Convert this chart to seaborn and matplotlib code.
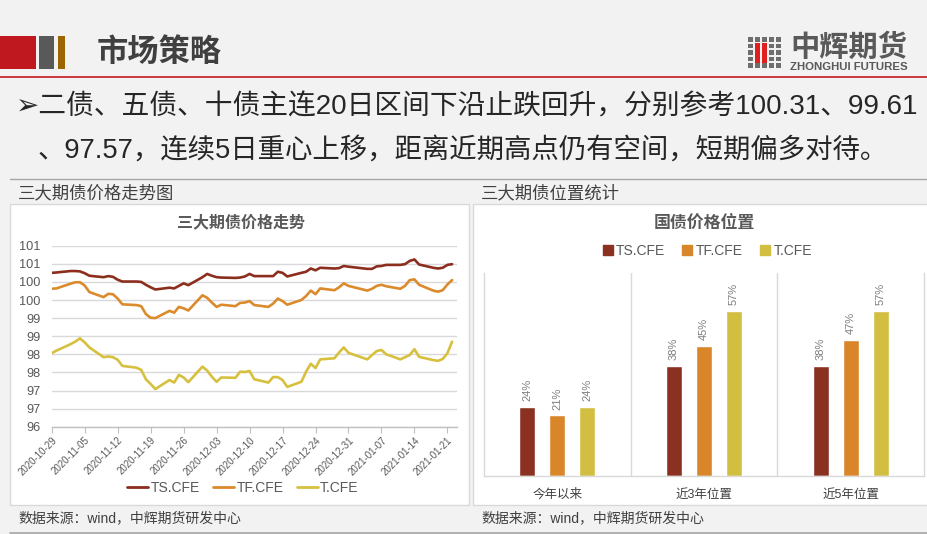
import numpy as np
import pandas as pd
import matplotlib
matplotlib.use('Agg')
import matplotlib.pyplot as plt
from matplotlib.patches import Rectangle
from matplotlib.lines import Line2D
import seaborn as sns

# ---------------- data ----------------
dates = [
    "2020-10-29", "2020-10-30",
    "2020-11-02", "2020-11-03", "2020-11-04", "2020-11-05", "2020-11-06",
    "2020-11-09", "2020-11-10", "2020-11-11", "2020-11-12", "2020-11-13",
    "2020-11-16", "2020-11-17", "2020-11-18", "2020-11-19", "2020-11-20",
    "2020-11-23", "2020-11-24", "2020-11-25", "2020-11-26", "2020-11-27",
    "2020-11-30", "2020-12-01", "2020-12-02", "2020-12-03", "2020-12-04",
    "2020-12-07", "2020-12-08", "2020-12-09", "2020-12-10", "2020-12-11",
    "2020-12-14", "2020-12-15", "2020-12-16", "2020-12-17", "2020-12-18",
    "2020-12-21", "2020-12-22", "2020-12-23", "2020-12-24", "2020-12-25",
    "2020-12-28", "2020-12-29", "2020-12-30", "2020-12-31",
    "2021-01-04", "2021-01-05", "2021-01-06", "2021-01-07", "2021-01-08",
    "2021-01-11", "2021-01-12", "2021-01-13", "2021-01-14", "2021-01-15",
    "2021-01-18", "2021-01-19", "2021-01-20", "2021-01-21", "2021-01-22",
]
ts_price = [
    100.25, 100.26,
    100.30, 100.30, 100.29, 100.24, 100.17,
    100.13, 100.16, 100.14, 100.06, 100.01,
    100.01, 100.00, 99.92, 99.85, 99.79,
    99.84, 99.82, 99.89, 99.96, 99.91,
    100.13, 100.22, 100.17, 100.13, 100.12,
    100.11, 100.12, 100.15, 100.22, 100.16,
    100.16, 100.16, 100.28, 100.25, 100.15,
    100.25, 100.28, 100.37, 100.32, 100.39,
    100.37, 100.38, 100.44, 100.42,
    100.36, 100.36, 100.43, 100.44, 100.47,
    100.47, 100.49, 100.58, 100.62, 100.48,
    100.39, 100.37, 100.39, 100.47, 100.49,
]
tf_price = [
    99.81, 99.82,
    99.95, 99.99, 99.99, 99.90, 99.72,
    99.58, 99.67, 99.66, 99.54, 99.38,
    99.36, 99.33, 99.11, 99.01, 99.00,
    99.20, 99.15, 99.31, 99.27, 99.21,
    99.63, 99.56, 99.43, 99.31, 99.37,
    99.33, 99.42, 99.43, 99.47, 99.36,
    99.31, 99.40, 99.54, 99.47, 99.37,
    99.50, 99.61, 99.76, 99.66, 99.82,
    99.77, 99.85, 99.96, 99.89,
    99.76, 99.81, 99.89, 99.92, 99.88,
    99.81, 99.89, 100.05, 100.07, 99.92,
    99.76, 99.73, 99.77, 99.93, 100.05,
]
t_price = [
    98.03, 98.10,
    98.28, 98.35, 98.44, 98.33, 98.19,
    97.92, 97.94, 97.92, 97.85, 97.68,
    97.63, 97.57, 97.31, 97.18, 97.04,
    97.29, 97.22, 97.43, 97.36, 97.23,
    97.66, 97.55, 97.38, 97.24, 97.36,
    97.35, 97.52, 97.51, 97.54, 97.31,
    97.22, 97.37, 97.37, 97.29, 97.10,
    97.24, 97.52, 97.74, 97.62, 97.86,
    97.89, 98.05, 98.19, 98.04,
    97.86, 97.98, 98.09, 98.12, 98.00,
    97.86, 97.92, 97.98, 98.14, 97.93,
    97.84, 97.82, 97.87, 98.03, 98.35,
]
series_names = ["TS.CFE", "TF.CFE", "T.CFE"]

bar_categories = ["今年以来", "近3年位置", "近5年位置"]
ts_pos = [0.24, 0.38, 0.38]
tf_pos = [0.21, 0.45, 0.47]
t_pos = [0.24, 0.57, 0.57]

line_title = "三大期债价格走势"
bar_title = "国债价格位置"
left_header = "三大期债价格走势图"
right_header = "三大期债位置统计"
source_text = "数据来源：wind，中辉期货研发中心"
page_title = "市场策略"
bullet_1 = "➢二债、五债、十债主连20日区间下沿止跌回升，分别参考100.31、99.61"
bullet_2 = "、97.57，连续5日重心上移，距离近期高点仍有空间，短期偏多对待。"

# ---------------- style ----------------
sns.set_theme(style='white')
plt.rcParams['font.family'] = ['Liberation Sans', 'Noto Sans CJK SC', 'DejaVu Sans']
plt.rcParams['axes.unicode_minus'] = False

line_colors = {"TS.CFE": "#8B2E1E", "TF.CFE": "#DB8A2C", "T.CFE": "#D6C03E"}
bar_colors = {"TS.CFE": "#8A3121", "TF.CFE": "#D9862B", "T.CFE": "#D2BF42"}

W, H = 928, 534
fig = plt.figure(figsize=(W / 100, H / 100), dpi=100, facecolor='#F2F2F2')


def px_axes(x0, y0, x1, y1):
    return fig.add_axes([x0 / W, 1 - y1 / H, (x1 - x0) / W, (y1 - y0) / H])


def fx(x):
    return x / W


def fy(y):
    return 1 - y / H


renderer = fig.canvas.get_renderer()


def fit(t, width):
    bb = t.get_window_extent(renderer)
    t.set_fontsize(t.get_fontsize() * width / bb.width)


# background / decoration layer in pixel coordinates
bg = fig.add_axes([0, 0, 1, 1])
bg.set_xlim(0, W)
bg.set_ylim(H, 0)
bg.axis('off')

bg.add_patch(Rectangle((0, 36), 36, 33, color='#C0181F', lw=0))
bg.add_patch(Rectangle((39, 36), 15, 33, color='#595959', lw=0))
bg.add_patch(Rectangle((58, 36), 7, 33, color='#9C6500', lw=0))
t = bg.text(97, 53, page_title, fontsize=20, weight='bold', color='#404040',
            va='center', ha='left')
fit(t, 125)
bg.plot([0, W], [77.3, 77.3], color='#C0181F', lw=1.2)

# logo
for i in range(5):
    for j in range(5):
        bg.add_patch(Rectangle((748 + i * 7, 37 + j * 6.5), 5, 4.5, color='#6E6E6E', lw=0))
bg.add_patch(Rectangle((755, 43), 12, 20, color='#E02020', lw=0))
bg.add_patch(Rectangle((760.5, 43), 1.2, 20, color='#F2F2F2', lw=0))
t = bg.text(790, 48, "中辉期货", fontsize=19, weight='bold', color='#595959',
            va='center', ha='left')
fit(t, 117)
t = bg.text(790, 67, "ZHONGHUI FUTURES", fontsize=7.5, weight='bold', color='#595959',
            va='center', ha='left')
fit(t, 117)

# bullet text
t = bg.text(16, 107, bullet_1, fontsize=19, color='#262626', va='center', ha='left')
fit(t, 902)
t = bg.text(38, 150, bullet_2, fontsize=19, color='#262626', va='center', ha='left')
fit(t, 852)
bg.plot([10, W], [178.5, 178.5], color='#A6A6A6', lw=1)

# section headers and panels
bg.text(18, 193, left_header, fontsize=12.5, color='#404040', va='center')
bg.text(481, 193, right_header, fontsize=12.5, color='#404040', va='center')
bg.add_patch(Rectangle((10.5, 204), 459, 301, facecolor='white', edgecolor='#D9D9D9', lw=1))
bg.add_patch(Rectangle((473.5, 204), 456, 301, facecolor='white', edgecolor='#D9D9D9', lw=1))
bg.text(18, 518, source_text, fontsize=10, color='#404040', va='center')
bg.text(481, 518, source_text, fontsize=10, color='#404040', va='center')
bg.plot([10, W], [533, 533], color='#A6A6A6', lw=1.2)

bg.text(241.5, 223, line_title, fontsize=11.5, weight='bold', color='#595959',
        ha='center', va='center')
bg.text(704, 222.5, bar_title, fontsize=12.2, weight='bold', color='#595959',
        ha='center', va='center')

# ---------------- line chart ----------------
date_idx = pd.to_datetime(dates)
df_line = pd.concat([
    pd.DataFrame({"date": date_idx, "price": vals, "series": name})
    for name, vals in zip(series_names, [ts_price, tf_price, t_price])
], ignore_index=True)

ax1 = px_axes(51.7, 245.7, 457.3, 426.7)
ax1.set_facecolor('none')
sns.lineplot(data=df_line, x="date", y="price", hue="series", hue_order=series_names,
             palette=line_colors, linewidth=1.9, ax=ax1, legend=False)
start = pd.Timestamp("2020-10-29")
ax1.set_xlim(start, start + pd.Timedelta(days=86.1))
ax1.set_ylim(96, 101)
yt = np.arange(96, 101.01, 0.5)
ax1.set_yticks(yt, [str(int(np.floor(v + 0.5))) for v in yt])
xt = pd.date_range("2020-10-29", "2021-01-21", freq="7D")
ax1.set_xticks(xt, [d.strftime("%Y-%m-%d") for d in xt])
for lab in ax1.get_xticklabels():
    lab.set_rotation(45)
    lab.set_ha('right')
    lab.set_rotation_mode('anchor')
ax1.tick_params(axis='y', length=0, labelsize=9.2, labelcolor='#595959', pad=8)
ax1.tick_params(axis='x', length=4, width=0.8, color='#BFBFBF', labelsize=7,
                labelcolor='#595959', pad=2, bottom=True, direction='out')
ax1.yaxis.grid(True, color='#D9D9D9', lw=1)
ax1.xaxis.grid(False)
for s in ['left', 'top', 'right']:
    ax1.spines[s].set_visible(False)
ax1.spines['bottom'].set_color('#BFBFBF')
ax1.spines['bottom'].set_linewidth(1)
ax1.set_xlabel('')
ax1.set_ylabel('')

handles = [Line2D([], [], color=line_colors[n], lw=2) for n in series_names]
fig.legend(handles, series_names, loc='center', bbox_to_anchor=(fx(243), fy(488)),
           ncol=3, frameon=False, fontsize=10, handlelength=1.5, columnspacing=1.0,
           handletextpad=0.15, labelcolor='#595959')

# ---------------- bar chart ----------------
df_bar = pd.concat([
    pd.DataFrame({"category": bar_categories, "position": vals, "series": name})
    for name, vals in zip(series_names, [ts_pos, tf_pos, t_pos])
], ignore_index=True)

ax2 = px_axes(484, 273.3, 924, 476)
ax2.set_facecolor('none')
sns.barplot(data=df_bar, x="category", y="position", hue="series", order=bar_categories,
            hue_order=series_names, palette=bar_colors, width=0.614, gap=0.466,
            errorbar=None, ax=ax2, legend=False, saturation=1)
ax2.set_ylim(0, 0.70)
ax2.set_xlim(-0.5, 2.5)
ax2.set_yticks([])
for xv in [0.5, 1.5]:
    ax2.axvline(xv, color='#D9D9D9', lw=1)
ax2.spines['top'].set_visible(False)
for s in ['left', 'right', 'bottom']:
    ax2.spines[s].set_color('#D9D9D9')
    ax2.spines[s].set_linewidth(1)
ax2.tick_params(axis='x', length=0, labelsize=9, labelcolor='#404040', pad=9)
ax2.set_xlabel('')
ax2.set_ylabel('')
for cont, vals in zip(ax2.containers, [ts_pos, tf_pos, t_pos]):
    ax2.bar_label(cont, labels=[f"{round(v * 100)}%" for v in vals], rotation=90,
                  padding=4, fontsize=8, color='#7F7F7F')

handles2 = [Line2D([], [], marker='s', ls='', markersize=7, color=bar_colors[n])
            for n in series_names]
fig.legend(handles2, series_names, loc='center', bbox_to_anchor=(fx(707), fy(251)),
           ncol=3, frameon=False, fontsize=10, handlelength=0.8, columnspacing=1.2,
           handletextpad=0.2, labelcolor='#595959')

fig.savefig('out.png', dpi=100, facecolor=fig.get_facecolor())
